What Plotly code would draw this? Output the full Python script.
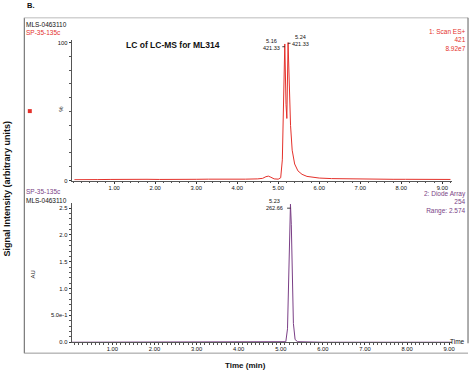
import plotly.graph_objects as go

W, H = 474, 374

# ---- data ----
ms_time = [0.03, 0.3, 0.6, 0.9, 1.2, 1.5, 1.8, 2.1, 2.4, 2.7, 3.0, 3.3, 3.6, 3.9, 4.2, 4.5, 4.62,
           4.70, 4.76, 4.82, 4.90, 5.00, 5.06, 5.10, 5.13, 5.16, 5.19, 5.21, 5.24, 5.27, 5.30,
           5.34, 5.40, 5.48, 5.58, 5.70, 5.85, 6.0, 6.3, 6.6, 6.9, 7.2, 7.5, 7.8, 8.1, 8.4,
           8.7, 9.0, 9.2]
ms_signal = [0.6, 0.9, 0.7, 0.8, 1.0, 0.7, 0.9, 0.8, 1.0, 0.8, 0.9, 1.0, 0.9, 1.1, 1.0, 1.2, 1.6,
             2.8, 3.2, 2.4, 1.2, 1.0, 2.0, 15.0, 62.0, 99.0, 55.0, 45.0, 100.0, 70.0, 40.0,
             22.0, 12.0, 7.0, 4.5, 3.0, 2.2, 1.8, 1.4, 1.2, 1.1, 1.0, 1.0, 0.9, 0.9, 0.9,
             0.8, 0.8, 0.8]

uv_time = [0.03, 1.0, 2.0, 3.0, 4.0, 5.0, 5.12, 5.16, 5.19, 5.21, 5.23, 5.25, 5.27, 5.30,
           5.34, 5.40, 6.0, 7.0, 8.0, 9.0, 9.07]
uv_abs = [0.0, 0.0, 0.0, 0.0, 0.0, 0.0, 0.01, 0.25, 1.3, 2.2, 2.574, 2.2, 1.2, 0.35,
          0.05, 0.01, 0.0, 0.0, 0.0, 0.0, 0.0]

x_ticks = [1, 2, 3, 4, 5, 6, 7, 8, 9]
x_tick_text = ["1.00", "2.00", "3.00", "4.00", "5.00", "6.00", "7.00", "8.00", "9.00"]
ms_y_ticks = [0, 100]
ms_y_text = ["0", "100"]
uv_y_ticks = [0, 0.5, 1.0, 1.5, 2.0, 2.5]
uv_y_text = ["0.0", "5.0e-1", "1.0", "1.5", "2.0", "2.5"]

ms_peaks = [(5.16, 100, "5.16<br>421.33"), (5.24, 100, "5.24<br>421.33")]
uv_peak = (5.23, 2.574, "5.23<br>262.66")

RED = "#e4312b"
PURPLE = "#7a3f86"
FONT = "Liberation Sans, Arial, sans-serif"


def px(x):
    return x / W


def py(y):
    return 1 - y / H


fig = go.Figure()
fig.add_trace(go.Scatter(x=ms_time, y=ms_signal, mode="lines",
                         line=dict(color=RED, width=1), xaxis="x", yaxis="y", showlegend=False))
fig.add_trace(go.Scatter(x=uv_time, y=uv_abs, mode="lines",
                         line=dict(color=PURPLE, width=1), xaxis="x2", yaxis="y2", showlegend=False))

axis_common = dict(showgrid=False, zeroline=False, showline=True, linecolor="#555", linewidth=1,
                   ticks="outside", ticklen=2, tickcolor="#333",
                   tickfont=dict(size=5.8, color="#111", family=FONT))

fig.update_layout(
    width=W, height=H, margin=dict(l=0, r=0, t=0, b=0),
    paper_bgcolor="white", plot_bgcolor="white",
    font=dict(family=FONT, color="#111"),
    xaxis=dict(domain=[px(72), px(455)], range=[-0.04, 9.24], anchor="y",
               tickvals=x_ticks, ticktext=x_tick_text, ticklabelstandoff=-1,
               minor=dict(dtick=0.2, ticklen=1.5, ticks="outside", tickcolor="#555"),
               **axis_common),
    yaxis=dict(domain=[py(182), py(40)], range=[0, 102.1], anchor="x",
               tickvals=ms_y_ticks, ticktext=ms_y_text,
               minor=dict(dtick=10, ticklen=1.5, ticks="outside", tickcolor="#555"),
               **axis_common),
    xaxis2=dict(domain=[px(72), px(455)], range=[0.03, 9.07], anchor="y2",
                tickvals=x_ticks, ticktext=x_tick_text, ticklabelstandoff=-1,
                minor=dict(dtick=0.1, ticklen=1.5, ticks="outside", tickcolor="#555"),
                **axis_common),
    yaxis2=dict(domain=[py(345), py(205)], range=[0, 2.59], anchor="x2",
                tickvals=uv_y_ticks, ticktext=uv_y_text,
                minor=dict(dtick=0.1, ticklen=1.5, ticks="outside", tickcolor="#555"),
                **axis_common),
)

ann = []


def text(x, y, s, size=7, color="#111", xanchor="left", bold=False, angle=0, align="left"):
    if bold:
        s = "<b>" + s + "</b>"
    ann.append(dict(x=px(x), y=py(y), xref="paper", yref="paper", text=s, showarrow=False,
                    xanchor=xanchor, yanchor="middle", textangle=angle, align=align,
                    font=dict(size=size, color=color, family=FONT)))


text(25, 6, "B.", size=7.5, bold=True)
text(24, 25, "MLS-0463110", size=6.5)
text(24, 33, "SP-35-135c", size=6.5, color=RED)
text(174, 45, "LC of LC-MS for ML314", size=8.5, bold=True, xanchor="center")
text(471, 40.5, "1: Scan ES+<br>421<br>8.92e7", size=6.5, color=RED, xanchor="right", align="right")
text(62, 110, "%", size=6, angle=-90, xanchor="center")
text(24, 193, "SP-35-135c", size=6.5, color=PURPLE)
text(24, 202, "MLS-0463110", size=6.5)
text(471, 204, "2: Diode Array<br>254<br>Range: 2.574", size=6.5, color=PURPLE, xanchor="right",
     align="right")
text(33, 277, "AU", size=6, angle=-90, xanchor="center")
text(451, 344, "Time", size=6.5, xanchor="left")
text(247, 368, "Time (min)", size=8, bold=True, xanchor="center")
text(8, 190, "Signal Intensity (arbitrary units)", size=9, bold=True, angle=-90, xanchor="center")

# peak labels (data coordinates)
ann.append(dict(x=ms_peaks[0][0], y=ms_peaks[0][1], xref="x", yref="y", text=ms_peaks[0][2],
                showarrow=False, xanchor="right", yanchor="middle", align="center",
                xshift=-3, yshift=-2, font=dict(size=5.5, color="#111", family=FONT)))
ann.append(dict(x=ms_peaks[1][0], y=ms_peaks[1][1], xref="x", yref="y", text=ms_peaks[1][2],
                showarrow=False, xanchor="left", yanchor="middle", align="center",
                xshift=2, yshift=2, font=dict(size=5.5, color="#111", family=FONT)))
ann.append(dict(x=uv_peak[0], y=uv_peak[1], xref="x2", yref="y2", text=uv_peak[2],
                showarrow=False, xanchor="right", yanchor="middle", align="center",
                xshift=-5, yshift=0, font=dict(size=5.5, color="#111", family=FONT)))
fig.update_layout(annotations=ann)

shapes = []
frame_col = "#777"
shapes.append(dict(type="line", xref="paper", yref="paper", x0=px(24.5), x1=px(24.5), y0=py(18), y1=py(356),
                   line=dict(color=frame_col, width=1.2)))
shapes.append(dict(type="line", xref="paper", yref="paper", x0=px(24.5), x1=px(471), y0=py(18), y1=py(18),
                   line=dict(color="#bbb", width=1)))
shapes.append(dict(type="line", xref="paper", yref="paper", x0=px(471), x1=px(471), y0=py(18), y1=py(346),
                   line=dict(color=frame_col, width=1.2)))
shapes.append(dict(type="line", xref="paper", yref="paper", x0=px(24.5), x1=px(471), y0=py(356), y1=py(356),
                   line=dict(color="#999", width=1)))
# peak leader ticks
shapes.append(dict(type="line", xref="x", yref="y", x0=ms_peaks[0][0] - 0.06, x1=ms_peaks[0][0],
                   y0=97, y1=97, line=dict(color="#111", width=0.8)))
shapes.append(dict(type="line", xref="x", yref="y", x0=ms_peaks[1][0], x1=ms_peaks[1][0] + 0.06,
                   y0=99.5, y1=99.5, line=dict(color="#111", width=0.8)))
shapes.append(dict(type="line", xref="x2", yref="y2", x0=uv_peak[0] - 0.08, x1=uv_peak[0],
                   y0=2.5, y1=2.5, line=dict(color="#111", width=0.8)))
# small red legend square
shapes.append(dict(type="rect", xref="paper", yref="paper", x0=px(28), x1=px(32), y0=py(114), y1=py(110),
                   fillcolor=RED, line=dict(width=0)))
fig.update_layout(shapes=shapes)

fig.write_html("out.html", config={"displayModeBar": False},
               post_script="document.body.style.margin='0';")
